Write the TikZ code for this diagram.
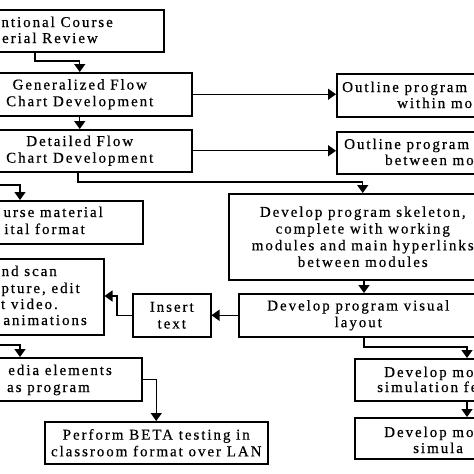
\documentclass[tikz,border=0pt]{standalone}
\usepackage{fontspec}
\setmainfont{Liberation Serif}[LetterSpace=13, FakeBold=0.5]
\usetikzlibrary{arrows.meta}
\begin{document}
\begin{tikzpicture}[x=1pt,y=-1pt,
  box/.style={draw, line width=1.5pt, inner sep=0pt, anchor=north west, align=center,
    font=\fontsize{15}{16.7}\selectfont},
  lbl/.style={inner sep=0pt, font=\fontsize{15}{16.7}\selectfont},
  conn/.style={line width=1.4pt, -{Triangle[length=8pt,width=11pt]}}]
\useasboundingbox (0,0) rectangle (474,474);
\clip (0,0) rectangle (474,474);
\fill[white] (0,0) rectangle (474,474);

% boxes
\node[box, minimum width=223pt, minimum height=42pt] (b1) at (-60,9) {};
\node[box, minimum width=224pt, minimum height=43pt] (b2) at (-33,72) {Generalized Flow\\Chart Development};
\node[box, minimum width=224pt, minimum height=42pt] (b3) at (-33,129) {Detailed Flow\\Chart Development};
\node[box, minimum width=184pt, minimum height=43pt] (o1) at (336,73) {};
\node[box, minimum width=184pt, minimum height=42pt] (o2) at (336,131) {};
\node[box, minimum width=222pt, minimum height=43pt] (cm) at (-80,200) {};
\node[box, minimum width=268pt, minimum height=86pt] (sk) at (228,193) {Develop program skeleton,\\complete with working\\modules and main hyperlinks\\between modules};
\node[box, minimum width=183pt, minimum height=76pt] (sc) at (-80,258) {};
\node[box, minimum width=78pt, minimum height=43pt] (it) at (132,293) {Insert\\text};
\node[box, minimum width=239pt, minimum height=43pt] (vl) at (238,293) {Develop program visual\\layout};
\node[box, minimum width=221pt, minimum height=43pt] (md) at (-80,357) {};
\node[box, minimum width=223pt, minimum height=42pt] (bt) at (44,421) {Perform BETA testing in\\classroom format over LAN};
\node[box, minimum width=226pt, minimum height=42pt] (s1) at (354,358) {};
\node[box, minimum width=226pt, minimum height=41pt] (s2) at (354,417) {};

% texts of boxes cut by the picture's edge
\node[lbl, anchor=base east] (t1a) at (113,27) {ntional Course};
\node[lbl, anchor=base east] (t1b) at (98,43) {erial Review};
\node[lbl, anchor=base west] (to1a) at (342,92) {Outline program};
\node[lbl, anchor=base west] (to1b) at (397,108) {within mo};
\node[lbl, anchor=base west] (to2a) at (344,149) {Outline program};
\node[lbl, anchor=base west] (to2b) at (385,165) {between mo};
\node[lbl, anchor=base east] (tcma) at (103,217) {urse material};
\node[lbl, anchor=base east] (tcmb) at (85,234) {ital format};
\node[lbl, anchor=base east] (tsca) at (57,276) {nd scan};
\node[lbl, anchor=base east] (tscb) at (80,293) {pture, edit};
\node[lbl, anchor=base east] (tscc) at (58,309) {rt video.};
\node[lbl, anchor=base east] (tscd) at (87,325) {animations};
\node[lbl, anchor=base east] (tmda) at (112,375) {edia elements};
\node[lbl, anchor=base east] (tmdb) at (90,392) {as program};
\node[lbl, anchor=base west] (ts1a) at (384,377) {Develop mo};
\node[lbl, anchor=base west] (ts1b) at (377,392) {simulation fe};
\node[lbl, anchor=base west] (ts2a) at (384,437) {Develop mo};
\node[lbl, anchor=base west] (ts2b) at (413,453) {simula};

% bend points
\coordinate (k1) at (35,61);
\coordinate (k2) at (78,182);
\coordinate (k3) at (-10,185);
\coordinate (k4) at (20,185);
\coordinate (k5) at (364,0);
\coordinate (k7) at (117,296);
\coordinate (k8) at (364,347);
\coordinate (k9) at (467,347);
\coordinate (k10) at (-10,345);
\coordinate (k11) at (20,345);

% connectors
\draw[conn] (b1.south -| k1) -- (k1) -| (b2.north);
\draw[conn] (b2.south) -- (b3.north);
\draw[conn] (b2.east) -- (b2.east -| o1.west);
\draw[conn] (b3.east) -- (b3.east -| o2.west);
\draw[conn] (b3.south -| k2) -- (k2) -| (sk.north);
\draw[conn] (k3) -- (k4) -- (k4 |- cm.north);
\draw[conn] (sk.south -| k5) -- (vl.north -| k5);
\draw[conn] (vl.west) -- (vl.west -| it.east);
\draw[conn] (it.west) -| (k7) -- (k7 -| sc.east);
\draw[conn] (vl.south -| k8) -- (k8) -- (k9) -- (k9 |- s1.north);
\draw[conn] (s1.south -| k9) -- (s2.north -| k9);
\draw[conn] (k10) -- (k11) -- (k11 |- md.north);
\draw[conn] (md.east) -| (bt.north);
\end{tikzpicture}
\end{document}
